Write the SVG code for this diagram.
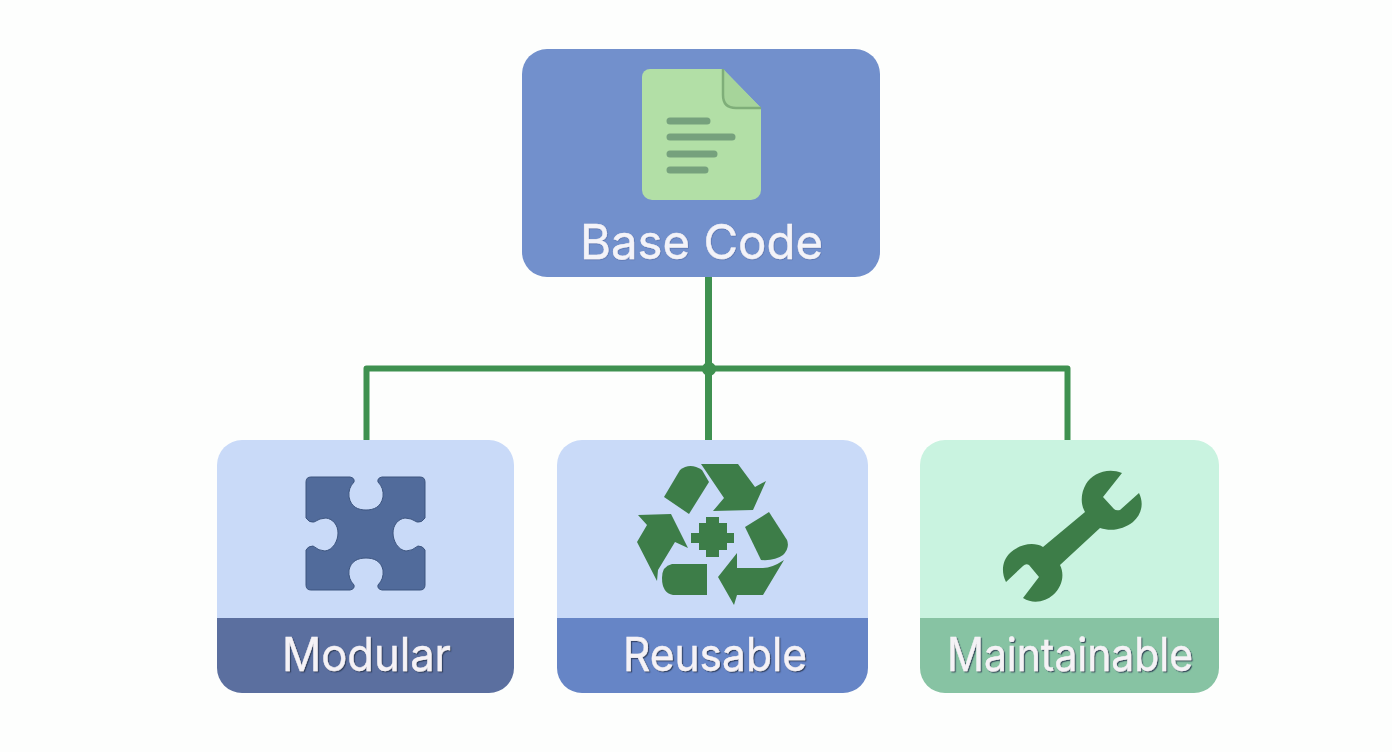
<svg xmlns="http://www.w3.org/2000/svg" width="1392" height="752" viewBox="0 0 1392 752">
<style>
.label{font-family:"Inter","Liberation Sans",Arial,sans-serif;font-size:46px;fill:#f5f2f6;stroke:#f5f2f6;stroke-width:0.4;text-anchor:start}
.base{font-size:48px;fill:#f3f3f9;filter:url(#soft)}
.lbl{filter:url(#shade)}
.conn{fill:none;stroke:#3f9150;stroke-linejoin:round}
.green{fill:#3d7d48}
.dl{stroke:#76a17d;stroke-width:7;stroke-linecap:round}
</style>
<defs>
<filter id="shade" x="-5%" y="-20%" width="110%" height="140%"><feDropShadow dx="1.2" dy="1.2" stdDeviation="0.6" flood-color="#27344f" flood-opacity="0.8"/></filter>
<filter id="soft" x="-5%" y="-20%" width="110%" height="140%"><feDropShadow dx="0.5" dy="0.5" stdDeviation="0.5" flood-color="#3c4f86" flood-opacity="0.6"/></filter>
</defs>
<rect width="1392" height="752" fill="#fdfefd"/>
<g id="connectors" class="conn">
<path stroke-width="7" d="M708.5 277V440"/>
<path stroke-width="6" d="M366.5 440V368.5H1067.5V440"/>
<circle cx="709" cy="369" r="7" fill="#3f9150" stroke="none"/>
</g>
<g id="node-base">
<rect x="522" y="49" width="358" height="228" rx="25" fill="#7290cc"/>
<path d="M650 69H723L761 108V190A10 10 0 0 1 751 200H652A10 10 0 0 1 642 190V77A8 8 0 0 1 650 69Z" fill="#b2dfa6"/>
<path d="M723 69L761 108H736Q723 108 723 95Z" fill="#a6d49a"/>
<path d="M723 69V95Q723 108 736 108H761" fill="none" stroke="#7fae79" stroke-width="2.5"/>
<path class="dl" d="M670 121H707M670 137H732M670 154H714M670 170H705"/>
<text class="label base" x="580" y="259" textLength="243" lengthAdjust="spacingAndGlyphs">Base Code</text>
</g>
<g id="node-modular">
<path d="M242 440H489A25 25 0 0 1 514 465V618H217V465A25 25 0 0 1 242 440Z" fill="#c9daf8"/>
<path d="M217 618H514V668A25 25 0 0 1 489 693H242A25 25 0 0 1 217 668Z" fill="#5b6f9f"/>
<path d="M311 477H350Q355 478 354 482Q348 488 349 497C351 507 358 510 366 510C374 510 381 507 383 497Q384 488 378 482Q377 478 382 477H420Q425 477 425 482V518Q422 523 417 522Q411 518 405 518C398 519 393 525 393 533C393 541 398 550 406 551Q412 551 418 546Q423 546 425 550V585Q425 590 420 590H382Q377 589 378 585Q384 579 383 570C381 561 374 558 366 558C358 558 351 561 349 570Q348 579 354 585Q355 589 350 590H311Q306 590 306 585V550Q308 546 313 546Q319 551 325 551C333 550 338 541 338 533C338 525 333 519 326 518Q320 518 314 522Q309 523 306 518V482Q306 477 311 477Z" fill="#516b9b" stroke="#3d557f" stroke-width="1"/>
<text class="label lbl" x="282" y="671" textLength="169" lengthAdjust="spacingAndGlyphs">Modular</text>
</g>
<g id="node-reusable">
<path d="M582 440H843A25 25 0 0 1 868 465V618H557V465A25 25 0 0 1 582 440Z" fill="#c9daf8"/>
<path d="M557 618H868V668A25 25 0 0 1 843 693H582A25 25 0 0 1 557 668Z" fill="#6685c6"/>
<g class="green">
<path d="M701 464H738L755 487L766 481L753 510L713 511L724 498Z"/>
<path d="M664 497L680 470Q690 462 702 470L709 482L689 514Z"/>
<path d="M745 527L769 512L787 540Q790 548 783 555Q775 561 761 560Z"/>
<path d="M784 560L763 595H737L734 605L718 577L737 553L737 568H763Q772 568 784 560Z"/>
<path d="M707 564V595H673Q662 593 662 578Q662 566 672 564Z"/>
<path d="M638 515L671 514L688 548L675 542L658 570L657 581L637 542L647 525Z"/>
<path d="M706 517H719V523H727V533H734V543H727V550H719V557H706V550H699V543H691V533H699V523H706Z"/>
</g>
<text class="label lbl" x="623" y="671" textLength="184" lengthAdjust="spacingAndGlyphs">Reusable</text>
</g>
<g id="node-maintainable">
<path d="M945 440H1194A25 25 0 0 1 1219 465V618H920V465A25 25 0 0 1 945 440Z" fill="#c9f3e0"/>
<path d="M920 618H1219V668A25 25 0 0 1 1194 693H945A25 25 0 0 1 920 668Z" fill="#87c3a3"/>
<path class="green" d="M1122 473C1107 467 1092 474 1086 484C1081 493 1080 503 1085 512L1043 547C1033 541 1018 545 1010 553C1002 561 1001 572 1006 582L1023 566Q1026 563 1029 565L1039 577L1023 598C1034 605 1046 601 1053 595C1062 587 1065 575 1060 565L1100 528C1112 532 1124 529 1133 522C1142 514 1144 503 1139 493L1120 510Q1116 511 1114 509L1103 497Z"/>
<text class="label lbl" x="947" y="671" textLength="246" lengthAdjust="spacingAndGlyphs">Maintainable</text>
</g>
</svg>
